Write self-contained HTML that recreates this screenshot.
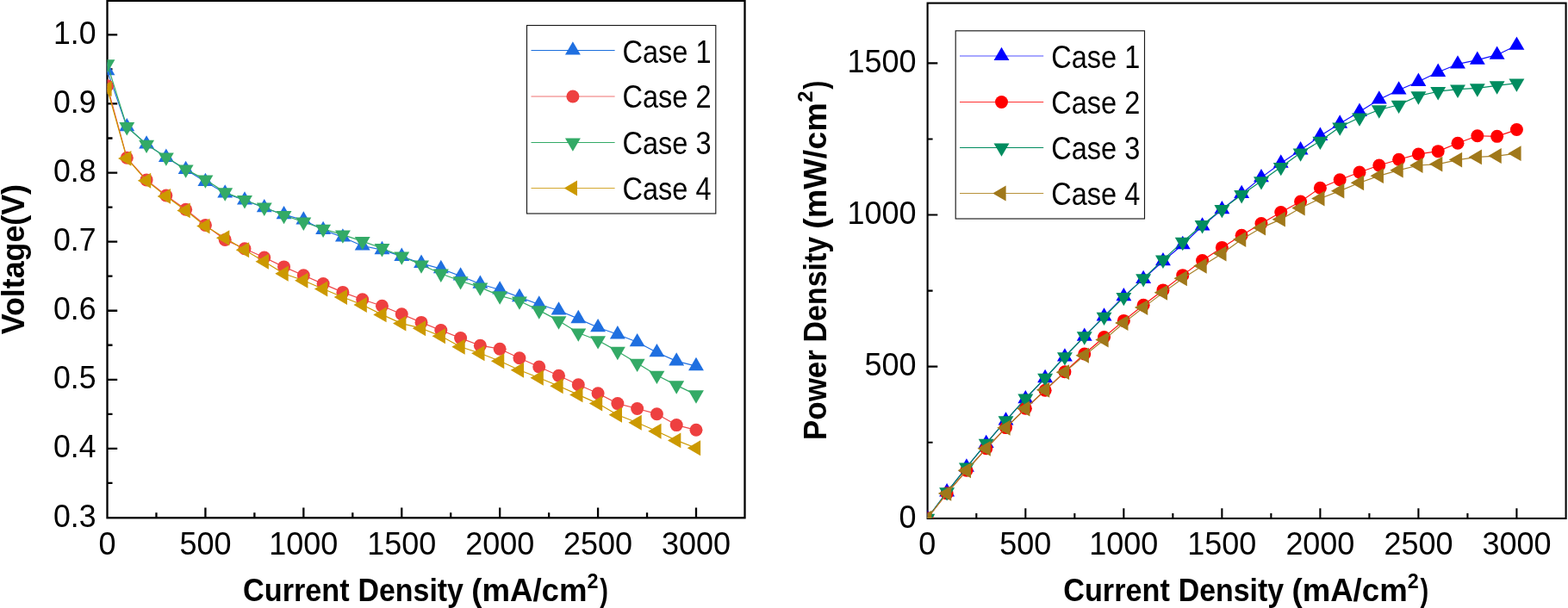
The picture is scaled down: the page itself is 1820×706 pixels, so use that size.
<!DOCTYPE html>
<html><head><meta charset="utf-8"><title>Fuel cell polarization and power density</title>
<style>html,body{margin:0;padding:0;background:#fff;overflow:hidden}svg{display:block}</style>
</head><body>
<svg width="1820" height="706" viewBox="0 0 1820 706">
<rect x="0" y="0" width="1820" height="706" fill="#ffffff"/>
<clipPath id="cl"><rect x="124.5" y="0.9" width="740.0" height="600.4"/></clipPath>
<path d="M124.5 520.91h11.7 M124.5 440.82h11.7 M124.5 360.73h11.7 M124.5 280.64h11.7 M124.5 200.55h11.7 M124.5 120.46h11.7 M124.5 40.37h11.7 M124.5 560.96h6 M124.5 480.87h6 M124.5 400.77h6 M124.5 320.69h6 M124.5 240.60h6 M124.5 160.50h6 M124.5 80.41h6 M238.42 601.3v-11.8 M352.33 601.3v-11.8 M466.25 601.3v-11.8 M580.16 601.3v-11.8 M694.08 601.3v-11.8 M807.99 601.3v-11.8 M181.46 601.3v-6 M295.37 601.3v-6 M409.29 601.3v-6 M523.20 601.3v-6 M637.12 601.3v-6 M751.03 601.3v-6" stroke="#000" stroke-width="2.3" fill="none"/>
<rect x="124.5" y="0.9" width="740.0" height="600.4" fill="none" stroke="#000" stroke-width="2.3"/>
<g clip-path="url(#cl)">
<polyline points="124.50,82.10 147.28,147.20 170.07,167.40 192.85,182.80 215.63,196.90 238.42,210.90 261.20,224.50 283.98,232.50 306.76,241.20 329.55,249.20 352.33,255.50 375.11,266.90 397.90,275.50 420.68,285.50 443.46,290.10 466.25,297.80 489.03,305.80 511.81,312.10 534.59,320.50 557.38,329.70 580.16,336.50 602.94,345.10 625.73,353.50 648.51,360.50 671.29,370.10 694.08,380.20 716.86,388.30 739.64,397.20 762.42,409.20 785.21,419.40 807.99,425.10" fill="none" stroke="#1f6fe0" stroke-width="1.2" stroke-linejoin="round"/>
<path d="M124.50 71.87 L133.45 87.22 L115.55 87.22Z" fill="#1f6fe0"/>
<path d="M147.28 136.97 L156.23 152.32 L138.33 152.32Z" fill="#1f6fe0"/>
<path d="M170.07 157.17 L179.02 172.52 L161.12 172.52Z" fill="#1f6fe0"/>
<path d="M192.85 172.57 L201.80 187.92 L183.90 187.92Z" fill="#1f6fe0"/>
<path d="M215.63 186.67 L224.58 202.02 L206.68 202.02Z" fill="#1f6fe0"/>
<path d="M238.42 200.67 L247.37 216.02 L229.47 216.02Z" fill="#1f6fe0"/>
<path d="M261.20 214.27 L270.15 229.62 L252.25 229.62Z" fill="#1f6fe0"/>
<path d="M283.98 222.27 L292.93 237.62 L275.03 237.62Z" fill="#1f6fe0"/>
<path d="M306.76 230.97 L315.71 246.32 L297.81 246.32Z" fill="#1f6fe0"/>
<path d="M329.55 238.97 L338.50 254.32 L320.60 254.32Z" fill="#1f6fe0"/>
<path d="M352.33 245.27 L361.28 260.62 L343.38 260.62Z" fill="#1f6fe0"/>
<path d="M375.11 256.67 L384.06 272.02 L366.16 272.02Z" fill="#1f6fe0"/>
<path d="M397.90 265.27 L406.85 280.62 L388.95 280.62Z" fill="#1f6fe0"/>
<path d="M420.68 275.27 L429.63 290.62 L411.73 290.62Z" fill="#1f6fe0"/>
<path d="M443.46 279.87 L452.41 295.22 L434.51 295.22Z" fill="#1f6fe0"/>
<path d="M466.25 287.57 L475.19 302.92 L457.30 302.92Z" fill="#1f6fe0"/>
<path d="M489.03 295.57 L497.98 310.92 L480.08 310.92Z" fill="#1f6fe0"/>
<path d="M511.81 301.87 L520.76 317.22 L502.86 317.22Z" fill="#1f6fe0"/>
<path d="M534.59 310.27 L543.54 325.62 L525.64 325.62Z" fill="#1f6fe0"/>
<path d="M557.38 319.47 L566.33 334.82 L548.43 334.82Z" fill="#1f6fe0"/>
<path d="M580.16 326.27 L589.11 341.62 L571.21 341.62Z" fill="#1f6fe0"/>
<path d="M602.94 334.87 L611.89 350.22 L593.99 350.22Z" fill="#1f6fe0"/>
<path d="M625.73 343.27 L634.68 358.62 L616.78 358.62Z" fill="#1f6fe0"/>
<path d="M648.51 350.27 L657.46 365.62 L639.56 365.62Z" fill="#1f6fe0"/>
<path d="M671.29 359.87 L680.24 375.22 L662.34 375.22Z" fill="#1f6fe0"/>
<path d="M694.08 369.97 L703.03 385.32 L685.12 385.32Z" fill="#1f6fe0"/>
<path d="M716.86 378.07 L725.81 393.42 L707.91 393.42Z" fill="#1f6fe0"/>
<path d="M739.64 386.97 L748.59 402.32 L730.69 402.32Z" fill="#1f6fe0"/>
<path d="M762.42 398.97 L771.37 414.32 L753.47 414.32Z" fill="#1f6fe0"/>
<path d="M785.21 409.17 L794.16 424.52 L776.26 424.52Z" fill="#1f6fe0"/>
<path d="M807.99 414.87 L816.94 430.22 L799.04 430.22Z" fill="#1f6fe0"/>
<polyline points="124.50,99.80 147.28,183.30 170.07,208.90 192.85,227.00 215.63,243.30 238.42,261.40 261.20,278.40 283.98,288.80 306.76,299.00 329.55,309.90 352.33,319.70 375.11,329.60 397.90,339.40 420.68,347.80 443.46,355.20 466.25,364.70 489.03,374.40 511.81,383.50 534.59,392.60 557.38,401.20 580.16,405.20 602.94,415.80 625.73,426.00 648.51,436.20 671.29,446.70 694.08,456.70 716.86,468.60 739.64,474.50 762.42,480.70 785.21,493.60 807.99,499.30" fill="none" stroke="#ee4848" stroke-width="1.2" stroke-linejoin="round"/>
<circle cx="124.50" cy="99.80" r="7.5" fill="#ee4040"/>
<circle cx="147.28" cy="183.30" r="7.5" fill="#ee4040"/>
<circle cx="170.07" cy="208.90" r="7.5" fill="#ee4040"/>
<circle cx="192.85" cy="227.00" r="7.5" fill="#ee4040"/>
<circle cx="215.63" cy="243.30" r="7.5" fill="#ee4040"/>
<circle cx="238.42" cy="261.40" r="7.5" fill="#ee4040"/>
<circle cx="261.20" cy="278.40" r="7.5" fill="#ee4040"/>
<circle cx="283.98" cy="288.80" r="7.5" fill="#ee4040"/>
<circle cx="306.76" cy="299.00" r="7.5" fill="#ee4040"/>
<circle cx="329.55" cy="309.90" r="7.5" fill="#ee4040"/>
<circle cx="352.33" cy="319.70" r="7.5" fill="#ee4040"/>
<circle cx="375.11" cy="329.60" r="7.5" fill="#ee4040"/>
<circle cx="397.90" cy="339.40" r="7.5" fill="#ee4040"/>
<circle cx="420.68" cy="347.80" r="7.5" fill="#ee4040"/>
<circle cx="443.46" cy="355.20" r="7.5" fill="#ee4040"/>
<circle cx="466.25" cy="364.70" r="7.5" fill="#ee4040"/>
<circle cx="489.03" cy="374.40" r="7.5" fill="#ee4040"/>
<circle cx="511.81" cy="383.50" r="7.5" fill="#ee4040"/>
<circle cx="534.59" cy="392.60" r="7.5" fill="#ee4040"/>
<circle cx="557.38" cy="401.20" r="7.5" fill="#ee4040"/>
<circle cx="580.16" cy="405.20" r="7.5" fill="#ee4040"/>
<circle cx="602.94" cy="415.80" r="7.5" fill="#ee4040"/>
<circle cx="625.73" cy="426.00" r="7.5" fill="#ee4040"/>
<circle cx="648.51" cy="436.20" r="7.5" fill="#ee4040"/>
<circle cx="671.29" cy="446.70" r="7.5" fill="#ee4040"/>
<circle cx="694.08" cy="456.70" r="7.5" fill="#ee4040"/>
<circle cx="716.86" cy="468.60" r="7.5" fill="#ee4040"/>
<circle cx="739.64" cy="474.50" r="7.5" fill="#ee4040"/>
<circle cx="762.42" cy="480.70" r="7.5" fill="#ee4040"/>
<circle cx="785.21" cy="493.60" r="7.5" fill="#ee4040"/>
<circle cx="807.99" cy="499.30" r="7.5" fill="#ee4040"/>
<polyline points="124.50,74.40 147.28,147.20 170.07,167.80 192.85,182.60 215.63,196.60 238.42,208.60 261.20,223.40 283.98,232.20 306.76,240.70 329.55,250.00 352.33,257.70 375.11,265.80 397.90,272.60 420.68,280.10 443.46,288.20 466.25,297.50 489.03,307.50 511.81,317.70 534.59,326.30 557.38,333.60 580.16,343.40 602.94,349.50 625.73,360.40 648.51,372.40 671.29,386.50 694.08,395.30 716.86,407.90 739.64,421.80 762.42,435.80 785.21,447.40 807.99,458.40" fill="none" stroke="#33aa66" stroke-width="1.2" stroke-linejoin="round"/>
<path d="M124.50 84.63 L133.45 69.28 L115.55 69.28Z" fill="#33aa66"/>
<path d="M147.28 157.43 L156.23 142.08 L138.33 142.08Z" fill="#33aa66"/>
<path d="M170.07 178.03 L179.02 162.68 L161.12 162.68Z" fill="#33aa66"/>
<path d="M192.85 192.83 L201.80 177.48 L183.90 177.48Z" fill="#33aa66"/>
<path d="M215.63 206.83 L224.58 191.48 L206.68 191.48Z" fill="#33aa66"/>
<path d="M238.42 218.83 L247.37 203.48 L229.47 203.48Z" fill="#33aa66"/>
<path d="M261.20 233.63 L270.15 218.28 L252.25 218.28Z" fill="#33aa66"/>
<path d="M283.98 242.43 L292.93 227.08 L275.03 227.08Z" fill="#33aa66"/>
<path d="M306.76 250.93 L315.71 235.58 L297.81 235.58Z" fill="#33aa66"/>
<path d="M329.55 260.23 L338.50 244.88 L320.60 244.88Z" fill="#33aa66"/>
<path d="M352.33 267.93 L361.28 252.58 L343.38 252.58Z" fill="#33aa66"/>
<path d="M375.11 276.03 L384.06 260.68 L366.16 260.68Z" fill="#33aa66"/>
<path d="M397.90 282.83 L406.85 267.48 L388.95 267.48Z" fill="#33aa66"/>
<path d="M420.68 290.33 L429.63 274.98 L411.73 274.98Z" fill="#33aa66"/>
<path d="M443.46 298.43 L452.41 283.08 L434.51 283.08Z" fill="#33aa66"/>
<path d="M466.25 307.73 L475.19 292.38 L457.30 292.38Z" fill="#33aa66"/>
<path d="M489.03 317.73 L497.98 302.38 L480.08 302.38Z" fill="#33aa66"/>
<path d="M511.81 327.93 L520.76 312.58 L502.86 312.58Z" fill="#33aa66"/>
<path d="M534.59 336.53 L543.54 321.18 L525.64 321.18Z" fill="#33aa66"/>
<path d="M557.38 343.83 L566.33 328.48 L548.43 328.48Z" fill="#33aa66"/>
<path d="M580.16 353.63 L589.11 338.28 L571.21 338.28Z" fill="#33aa66"/>
<path d="M602.94 359.73 L611.89 344.38 L593.99 344.38Z" fill="#33aa66"/>
<path d="M625.73 370.63 L634.68 355.28 L616.78 355.28Z" fill="#33aa66"/>
<path d="M648.51 382.63 L657.46 367.28 L639.56 367.28Z" fill="#33aa66"/>
<path d="M671.29 396.73 L680.24 381.38 L662.34 381.38Z" fill="#33aa66"/>
<path d="M694.08 405.53 L703.03 390.18 L685.12 390.18Z" fill="#33aa66"/>
<path d="M716.86 418.13 L725.81 402.78 L707.91 402.78Z" fill="#33aa66"/>
<path d="M739.64 432.03 L748.59 416.68 L730.69 416.68Z" fill="#33aa66"/>
<path d="M762.42 446.03 L771.37 430.68 L753.47 430.68Z" fill="#33aa66"/>
<path d="M785.21 457.63 L794.16 442.28 L776.26 442.28Z" fill="#33aa66"/>
<path d="M807.99 468.63 L816.94 453.28 L799.04 453.28Z" fill="#33aa66"/>
<polyline points="124.50,103.00 147.28,183.90 170.07,209.80 192.85,227.90 215.63,244.40 238.42,262.60 261.20,276.20 283.98,290.20 306.76,303.80 329.55,317.80 352.33,325.80 375.11,335.50 397.90,345.00 420.68,354.00 443.46,365.40 466.25,375.60 489.03,381.20 511.81,390.30 534.59,402.80 557.38,410.20 580.16,419.20 602.94,429.70 625.73,438.70 648.51,448.20 671.29,458.40 694.08,468.60 716.86,481.70 739.64,490.80 762.42,500.70 785.21,511.40 807.99,520.20" fill="none" stroke="#cc9900" stroke-width="1.2" stroke-linejoin="round"/>
<path d="M114.27 103.00 L129.62 94.05 L129.62 111.95Z" fill="#cc9900"/>
<path d="M137.05 183.90 L152.40 174.95 L152.40 192.85Z" fill="#cc9900"/>
<path d="M159.83 209.80 L175.18 200.85 L175.18 218.75Z" fill="#cc9900"/>
<path d="M182.62 227.90 L197.97 218.95 L197.97 236.85Z" fill="#cc9900"/>
<path d="M205.40 244.40 L220.75 235.45 L220.75 253.35Z" fill="#cc9900"/>
<path d="M228.18 262.60 L243.53 253.65 L243.53 271.55Z" fill="#cc9900"/>
<path d="M250.96 276.20 L266.31 267.25 L266.31 285.15Z" fill="#cc9900"/>
<path d="M273.75 290.20 L289.10 281.25 L289.10 299.15Z" fill="#cc9900"/>
<path d="M296.53 303.80 L311.88 294.85 L311.88 312.75Z" fill="#cc9900"/>
<path d="M319.31 317.80 L334.66 308.85 L334.66 326.75Z" fill="#cc9900"/>
<path d="M342.10 325.80 L357.45 316.85 L357.45 334.75Z" fill="#cc9900"/>
<path d="M364.88 335.50 L380.23 326.55 L380.23 344.45Z" fill="#cc9900"/>
<path d="M387.66 345.00 L403.01 336.05 L403.01 353.95Z" fill="#cc9900"/>
<path d="M410.45 354.00 L425.80 345.05 L425.80 362.95Z" fill="#cc9900"/>
<path d="M433.23 365.40 L448.58 356.45 L448.58 374.35Z" fill="#cc9900"/>
<path d="M456.01 375.60 L471.36 366.65 L471.36 384.55Z" fill="#cc9900"/>
<path d="M478.79 381.20 L494.14 372.25 L494.14 390.15Z" fill="#cc9900"/>
<path d="M501.58 390.30 L516.93 381.35 L516.93 399.25Z" fill="#cc9900"/>
<path d="M524.36 402.80 L539.71 393.85 L539.71 411.75Z" fill="#cc9900"/>
<path d="M547.14 410.20 L562.49 401.25 L562.49 419.15Z" fill="#cc9900"/>
<path d="M569.93 419.20 L585.28 410.25 L585.28 428.15Z" fill="#cc9900"/>
<path d="M592.71 429.70 L608.06 420.75 L608.06 438.65Z" fill="#cc9900"/>
<path d="M615.49 438.70 L630.84 429.75 L630.84 447.65Z" fill="#cc9900"/>
<path d="M638.28 448.20 L653.63 439.25 L653.63 457.15Z" fill="#cc9900"/>
<path d="M661.06 458.40 L676.41 449.45 L676.41 467.35Z" fill="#cc9900"/>
<path d="M683.84 468.60 L699.19 459.65 L699.19 477.55Z" fill="#cc9900"/>
<path d="M706.62 481.70 L721.97 472.75 L721.97 490.65Z" fill="#cc9900"/>
<path d="M729.41 490.80 L744.76 481.85 L744.76 499.75Z" fill="#cc9900"/>
<path d="M752.19 500.70 L767.54 491.75 L767.54 509.65Z" fill="#cc9900"/>
<path d="M774.97 511.40 L790.32 502.45 L790.32 520.35Z" fill="#cc9900"/>
<path d="M797.76 520.20 L813.11 511.25 L813.11 529.15Z" fill="#cc9900"/>
</g>
<clipPath id="cr"><rect x="1076.6" y="3.6" width="741.0" height="598.4"/></clipPath>
<path d="M1076.6 425.67h11.7 M1076.6 249.54h11.7 M1076.6 73.41h11.7 M1076.6 513.73h6 M1076.6 337.60h6 M1076.6 161.47h6 M1190.32 602.0v-11.8 M1304.34 602.0v-11.8 M1418.36 602.0v-11.8 M1532.38 602.0v-11.8 M1646.40 602.0v-11.8 M1760.42 602.0v-11.8 M1133.31 602.0v-6 M1247.33 602.0v-6 M1361.35 602.0v-6 M1475.37 602.0v-6 M1589.39 602.0v-6 M1703.41 602.0v-6" stroke="#000" stroke-width="2.1" fill="none"/>
<rect x="1076.6" y="3.6" width="741.0" height="598.4" fill="none" stroke="#000" stroke-width="2.1"/>
<g clip-path="url(#cr)">
<polyline points="1076.30,601.80 1099.10,571.27 1121.91,542.52 1144.71,514.92 1167.52,488.43 1190.32,463.17 1213.12,439.04 1235.93,414.37 1258.73,390.66 1281.54,367.43 1304.34,344.16 1327.14,323.91 1349.95,303.19 1372.75,284.02 1395.56,262.41 1418.36,243.25 1441.16,224.97 1463.97,206.13 1486.77,189.51 1509.58,174.29 1532.38,157.77 1555.18,143.52 1577.99,129.82 1600.79,115.45 1623.60,104.44 1646.40,94.82 1669.20,83.80 1692.01,74.45 1714.81,69.70 1737.62,63.70 1760.42,52.67" fill="none" stroke="#1010ff" stroke-width="1.2" stroke-linejoin="round"/>
<path d="M1076.30 591.57 L1085.25 606.92 L1067.35 606.92Z" fill="#0000ff"/>
<path d="M1099.10 561.04 L1108.05 576.39 L1090.15 576.39Z" fill="#0000ff"/>
<path d="M1121.91 532.29 L1130.86 547.64 L1112.96 547.64Z" fill="#0000ff"/>
<path d="M1144.71 504.68 L1153.66 520.03 L1135.76 520.03Z" fill="#0000ff"/>
<path d="M1167.52 478.20 L1176.47 493.55 L1158.57 493.55Z" fill="#0000ff"/>
<path d="M1190.32 452.94 L1199.27 468.29 L1181.37 468.29Z" fill="#0000ff"/>
<path d="M1213.12 428.80 L1222.07 444.15 L1204.17 444.15Z" fill="#0000ff"/>
<path d="M1235.93 404.14 L1244.88 419.49 L1226.98 419.49Z" fill="#0000ff"/>
<path d="M1258.73 380.42 L1267.68 395.77 L1249.78 395.77Z" fill="#0000ff"/>
<path d="M1281.54 357.20 L1290.49 372.55 L1272.59 372.55Z" fill="#0000ff"/>
<path d="M1304.34 333.93 L1313.29 349.28 L1295.39 349.28Z" fill="#0000ff"/>
<path d="M1327.14 313.68 L1336.09 329.03 L1318.19 329.03Z" fill="#0000ff"/>
<path d="M1349.95 292.96 L1358.90 308.31 L1341.00 308.31Z" fill="#0000ff"/>
<path d="M1372.75 273.79 L1381.70 289.14 L1363.80 289.14Z" fill="#0000ff"/>
<path d="M1395.56 252.18 L1404.51 267.53 L1386.61 267.53Z" fill="#0000ff"/>
<path d="M1418.36 233.01 L1427.31 248.36 L1409.41 248.36Z" fill="#0000ff"/>
<path d="M1441.16 214.74 L1450.11 230.09 L1432.21 230.09Z" fill="#0000ff"/>
<path d="M1463.97 195.90 L1472.92 211.25 L1455.02 211.25Z" fill="#0000ff"/>
<path d="M1486.77 179.28 L1495.72 194.63 L1477.82 194.63Z" fill="#0000ff"/>
<path d="M1509.58 164.06 L1518.53 179.41 L1500.63 179.41Z" fill="#0000ff"/>
<path d="M1532.38 147.54 L1541.33 162.89 L1523.43 162.89Z" fill="#0000ff"/>
<path d="M1555.18 133.28 L1564.13 148.63 L1546.23 148.63Z" fill="#0000ff"/>
<path d="M1577.99 119.59 L1586.94 134.94 L1569.04 134.94Z" fill="#0000ff"/>
<path d="M1600.79 105.22 L1609.74 120.57 L1591.84 120.57Z" fill="#0000ff"/>
<path d="M1623.60 94.20 L1632.55 109.55 L1614.65 109.55Z" fill="#0000ff"/>
<path d="M1646.40 84.59 L1655.35 99.94 L1637.45 99.94Z" fill="#0000ff"/>
<path d="M1669.20 73.57 L1678.15 88.92 L1660.25 88.92Z" fill="#0000ff"/>
<path d="M1692.01 64.22 L1700.96 79.57 L1683.06 79.57Z" fill="#0000ff"/>
<path d="M1714.81 59.46 L1723.76 74.81 L1705.86 74.81Z" fill="#0000ff"/>
<path d="M1737.62 53.47 L1746.57 68.82 L1728.67 68.82Z" fill="#0000ff"/>
<path d="M1760.42 42.43 L1769.37 57.78 L1751.47 57.78Z" fill="#0000ff"/>
<polyline points="1076.30,601.80 1099.10,572.86 1121.91,546.17 1144.71,520.75 1167.52,496.60 1190.32,474.28 1213.12,453.26 1235.93,431.70 1258.73,410.99 1281.54,391.46 1304.34,372.40 1327.14,354.25 1349.95,336.91 1372.75,319.64 1395.56,302.50 1418.36,287.39 1441.16,273.25 1463.97,259.52 1486.77,246.59 1509.58,234.04 1532.38,218.21 1555.18,208.82 1577.99,199.97 1600.79,192.03 1623.60,185.29 1646.40,178.94 1669.20,175.63 1692.01,166.25 1714.81,157.75 1737.62,158.34 1760.42,150.57" fill="none" stroke="#ff1010" stroke-width="1.2" stroke-linejoin="round"/>
<circle cx="1076.30" cy="601.80" r="7.5" fill="#ff0000"/>
<circle cx="1099.10" cy="572.86" r="7.5" fill="#ff0000"/>
<circle cx="1121.91" cy="546.17" r="7.5" fill="#ff0000"/>
<circle cx="1144.71" cy="520.75" r="7.5" fill="#ff0000"/>
<circle cx="1167.52" cy="496.60" r="7.5" fill="#ff0000"/>
<circle cx="1190.32" cy="474.28" r="7.5" fill="#ff0000"/>
<circle cx="1213.12" cy="453.26" r="7.5" fill="#ff0000"/>
<circle cx="1235.93" cy="431.70" r="7.5" fill="#ff0000"/>
<circle cx="1258.73" cy="410.99" r="7.5" fill="#ff0000"/>
<circle cx="1281.54" cy="391.46" r="7.5" fill="#ff0000"/>
<circle cx="1304.34" cy="372.40" r="7.5" fill="#ff0000"/>
<circle cx="1327.14" cy="354.25" r="7.5" fill="#ff0000"/>
<circle cx="1349.95" cy="336.91" r="7.5" fill="#ff0000"/>
<circle cx="1372.75" cy="319.64" r="7.5" fill="#ff0000"/>
<circle cx="1395.56" cy="302.50" r="7.5" fill="#ff0000"/>
<circle cx="1418.36" cy="287.39" r="7.5" fill="#ff0000"/>
<circle cx="1441.16" cy="273.25" r="7.5" fill="#ff0000"/>
<circle cx="1463.97" cy="259.52" r="7.5" fill="#ff0000"/>
<circle cx="1486.77" cy="246.59" r="7.5" fill="#ff0000"/>
<circle cx="1509.58" cy="234.04" r="7.5" fill="#ff0000"/>
<circle cx="1532.38" cy="218.21" r="7.5" fill="#ff0000"/>
<circle cx="1555.18" cy="208.82" r="7.5" fill="#ff0000"/>
<circle cx="1577.99" cy="199.97" r="7.5" fill="#ff0000"/>
<circle cx="1600.79" cy="192.03" r="7.5" fill="#ff0000"/>
<circle cx="1623.60" cy="185.29" r="7.5" fill="#ff0000"/>
<circle cx="1646.40" cy="178.94" r="7.5" fill="#ff0000"/>
<circle cx="1669.20" cy="175.63" r="7.5" fill="#ff0000"/>
<circle cx="1692.01" cy="166.25" r="7.5" fill="#ff0000"/>
<circle cx="1714.81" cy="157.75" r="7.5" fill="#ff0000"/>
<circle cx="1737.62" cy="158.34" r="7.5" fill="#ff0000"/>
<circle cx="1760.42" cy="150.57" r="7.5" fill="#ff0000"/>
<polyline points="1076.30,601.80 1099.10,571.27 1121.91,542.56 1144.71,514.89 1167.52,488.38 1190.32,462.67 1213.12,438.75 1235.93,414.28 1258.73,390.48 1281.54,367.75 1304.34,345.13 1327.14,323.38 1349.95,301.66 1372.75,280.93 1395.56,261.24 1418.36,243.05 1441.16,226.17 1463.97,210.32 1486.77,194.10 1509.58,177.55 1532.38,163.84 1555.18,147.58 1577.99,136.50 1600.79,127.49 1623.60,121.75 1646.40,111.42 1669.20,106.22 1692.01,103.66 1714.81,102.45 1737.62,99.42 1760.42,96.61" fill="none" stroke="#008c5f" stroke-width="1.2" stroke-linejoin="round"/>
<path d="M1076.30 612.03 L1085.25 596.68 L1067.35 596.68Z" fill="#008c5f"/>
<path d="M1099.10 581.51 L1108.05 566.16 L1090.15 566.16Z" fill="#008c5f"/>
<path d="M1121.91 552.79 L1130.86 537.44 L1112.96 537.44Z" fill="#008c5f"/>
<path d="M1144.71 525.12 L1153.66 509.77 L1135.76 509.77Z" fill="#008c5f"/>
<path d="M1167.52 498.62 L1176.47 483.27 L1158.57 483.27Z" fill="#008c5f"/>
<path d="M1190.32 472.90 L1199.27 457.55 L1181.37 457.55Z" fill="#008c5f"/>
<path d="M1213.12 448.98 L1222.07 433.63 L1204.17 433.63Z" fill="#008c5f"/>
<path d="M1235.93 424.51 L1244.88 409.16 L1226.98 409.16Z" fill="#008c5f"/>
<path d="M1258.73 400.71 L1267.68 385.36 L1249.78 385.36Z" fill="#008c5f"/>
<path d="M1281.54 377.98 L1290.49 362.63 L1272.59 362.63Z" fill="#008c5f"/>
<path d="M1304.34 355.36 L1313.29 340.01 L1295.39 340.01Z" fill="#008c5f"/>
<path d="M1327.14 333.61 L1336.09 318.26 L1318.19 318.26Z" fill="#008c5f"/>
<path d="M1349.95 311.89 L1358.90 296.54 L1341.00 296.54Z" fill="#008c5f"/>
<path d="M1372.75 291.17 L1381.70 275.82 L1363.80 275.82Z" fill="#008c5f"/>
<path d="M1395.56 271.47 L1404.51 256.12 L1386.61 256.12Z" fill="#008c5f"/>
<path d="M1418.36 253.28 L1427.31 237.93 L1409.41 237.93Z" fill="#008c5f"/>
<path d="M1441.16 236.40 L1450.11 221.05 L1432.21 221.05Z" fill="#008c5f"/>
<path d="M1463.97 220.55 L1472.92 205.20 L1455.02 205.20Z" fill="#008c5f"/>
<path d="M1486.77 204.33 L1495.72 188.98 L1477.82 188.98Z" fill="#008c5f"/>
<path d="M1509.58 187.79 L1518.53 172.44 L1500.63 172.44Z" fill="#008c5f"/>
<path d="M1532.38 174.08 L1541.33 158.73 L1523.43 158.73Z" fill="#008c5f"/>
<path d="M1555.18 157.81 L1564.13 142.46 L1546.23 142.46Z" fill="#008c5f"/>
<path d="M1577.99 146.73 L1586.94 131.38 L1569.04 131.38Z" fill="#008c5f"/>
<path d="M1600.79 137.72 L1609.74 122.37 L1591.84 122.37Z" fill="#008c5f"/>
<path d="M1623.60 131.98 L1632.55 116.63 L1614.65 116.63Z" fill="#008c5f"/>
<path d="M1646.40 121.66 L1655.35 106.31 L1637.45 106.31Z" fill="#008c5f"/>
<path d="M1669.20 116.45 L1678.15 101.10 L1660.25 101.10Z" fill="#008c5f"/>
<path d="M1692.01 113.90 L1700.96 98.55 L1683.06 98.55Z" fill="#008c5f"/>
<path d="M1714.81 112.69 L1723.76 97.34 L1705.86 97.34Z" fill="#008c5f"/>
<path d="M1737.62 109.65 L1746.57 94.30 L1728.67 94.30Z" fill="#008c5f"/>
<path d="M1760.42 106.84 L1769.37 91.49 L1751.47 91.49Z" fill="#008c5f"/>
<polyline points="1076.30,601.80 1099.10,572.89 1121.91,546.25 1144.71,520.87 1167.52,496.79 1190.32,474.54 1213.12,452.68 1235.93,432.14 1258.73,412.68 1281.54,394.59 1304.34,375.08 1327.14,357.10 1349.95,339.87 1372.75,323.19 1395.56,308.78 1418.36,294.58 1441.16,278.04 1463.97,264.60 1486.77,254.67 1509.58,241.56 1532.38,230.52 1555.18,221.66 1577.99,212.26 1600.79,204.17 1623.60,197.65 1646.40,192.02 1669.20,190.61 1692.01,185.60 1714.81,182.38 1737.62,181.05 1760.42,178.15" fill="none" stroke="#a8822a" stroke-width="1.2" stroke-linejoin="round"/>
<path d="M1066.07 601.80 L1081.42 592.85 L1081.42 610.75Z" fill="#a0781a"/>
<path d="M1088.87 572.89 L1104.22 563.94 L1104.22 581.84Z" fill="#a0781a"/>
<path d="M1111.67 546.25 L1127.02 537.30 L1127.02 555.20Z" fill="#a0781a"/>
<path d="M1134.48 520.87 L1149.83 511.92 L1149.83 529.82Z" fill="#a0781a"/>
<path d="M1157.28 496.79 L1172.63 487.84 L1172.63 505.74Z" fill="#a0781a"/>
<path d="M1180.09 474.54 L1195.44 465.59 L1195.44 483.49Z" fill="#a0781a"/>
<path d="M1202.89 452.68 L1218.24 443.73 L1218.24 461.63Z" fill="#a0781a"/>
<path d="M1225.69 432.14 L1241.04 423.19 L1241.04 441.09Z" fill="#a0781a"/>
<path d="M1248.50 412.68 L1263.85 403.73 L1263.85 421.63Z" fill="#a0781a"/>
<path d="M1271.30 394.59 L1286.65 385.64 L1286.65 403.54Z" fill="#a0781a"/>
<path d="M1294.11 375.08 L1309.46 366.13 L1309.46 384.03Z" fill="#a0781a"/>
<path d="M1316.91 357.10 L1332.26 348.15 L1332.26 366.05Z" fill="#a0781a"/>
<path d="M1339.71 339.87 L1355.06 330.92 L1355.06 348.82Z" fill="#a0781a"/>
<path d="M1362.52 323.19 L1377.87 314.24 L1377.87 332.14Z" fill="#a0781a"/>
<path d="M1385.32 308.78 L1400.67 299.83 L1400.67 317.73Z" fill="#a0781a"/>
<path d="M1408.13 294.58 L1423.48 285.63 L1423.48 303.53Z" fill="#a0781a"/>
<path d="M1430.93 278.04 L1446.28 269.09 L1446.28 286.99Z" fill="#a0781a"/>
<path d="M1453.73 264.60 L1469.08 255.65 L1469.08 273.55Z" fill="#a0781a"/>
<path d="M1476.54 254.67 L1491.89 245.72 L1491.89 263.62Z" fill="#a0781a"/>
<path d="M1499.34 241.56 L1514.69 232.61 L1514.69 250.51Z" fill="#a0781a"/>
<path d="M1522.15 230.52 L1537.50 221.57 L1537.50 239.47Z" fill="#a0781a"/>
<path d="M1544.95 221.66 L1560.30 212.71 L1560.30 230.61Z" fill="#a0781a"/>
<path d="M1567.75 212.26 L1583.10 203.31 L1583.10 221.21Z" fill="#a0781a"/>
<path d="M1590.56 204.17 L1605.91 195.22 L1605.91 213.12Z" fill="#a0781a"/>
<path d="M1613.36 197.65 L1628.71 188.70 L1628.71 206.60Z" fill="#a0781a"/>
<path d="M1636.17 192.02 L1651.52 183.07 L1651.52 200.97Z" fill="#a0781a"/>
<path d="M1658.97 190.61 L1674.32 181.66 L1674.32 199.56Z" fill="#a0781a"/>
<path d="M1681.77 185.60 L1697.12 176.65 L1697.12 194.55Z" fill="#a0781a"/>
<path d="M1704.58 182.38 L1719.93 173.43 L1719.93 191.33Z" fill="#a0781a"/>
<path d="M1727.38 181.05 L1742.73 172.10 L1742.73 190.00Z" fill="#a0781a"/>
<path d="M1750.19 178.15 L1765.54 169.20 L1765.54 187.10Z" fill="#a0781a"/>
</g>
<g font-family="'Liberation Sans', Arial, sans-serif" fill="#000">
<rect x="611.5" y="29.5" width="219.3" height="218.5" fill="#fff" stroke="#1a1a1a" stroke-width="1.15"/>
<line x1="616.5" y1="58.5" x2="713.6" y2="58.5" stroke="#1a6edc" stroke-width="1.1"/>
<path d="M664.90 48.27 L673.85 63.62 L655.95 63.62Z" fill="#1f6fe0"/>
<text x="722.5" y="72.6" font-size="37.4" textLength="103" lengthAdjust="spacingAndGlyphs">Case 1</text>
<line x1="616.5" y1="112.0" x2="713.6" y2="112.0" stroke="#f07070" stroke-width="1.1"/>
<circle cx="664.90" cy="112.00" r="7.5" fill="#ee4040"/>
<text x="722.5" y="125.3" font-size="37.4" textLength="103" lengthAdjust="spacingAndGlyphs">Case 2</text>
<line x1="616.5" y1="165.5" x2="713.6" y2="165.5" stroke="#33aa66" stroke-width="1.1"/>
<path d="M664.90 175.73 L673.85 160.38 L655.95 160.38Z" fill="#33aa66"/>
<text x="722.5" y="179.0" font-size="37.4" textLength="103" lengthAdjust="spacingAndGlyphs">Case 3</text>
<line x1="616.5" y1="218.5" x2="713.6" y2="218.5" stroke="#d4a830" stroke-width="1.1"/>
<path d="M654.67 218.50 L670.02 209.55 L670.02 227.45Z" fill="#cc9900"/>
<text x="722.5" y="232.1" font-size="37.4" textLength="103" lengthAdjust="spacingAndGlyphs">Case 4</text>
<rect x="1109.2" y="35.8" width="219.3" height="218.2" fill="#fff" stroke="#1a1a1a" stroke-width="1.15"/>
<line x1="1114.0" y1="65.0" x2="1211.2" y2="65.0" stroke="#5050ff" stroke-width="1.1"/>
<path d="M1162.50 54.77 L1171.45 70.12 L1153.55 70.12Z" fill="#0000ff"/>
<text x="1220.3" y="78.6" font-size="37.4" textLength="103" lengthAdjust="spacingAndGlyphs">Case 1</text>
<line x1="1114.0" y1="118.5" x2="1211.2" y2="118.5" stroke="#ff3030" stroke-width="1.1"/>
<circle cx="1162.50" cy="118.50" r="7.5" fill="#ff0000"/>
<text x="1220.3" y="131.7" font-size="37.4" textLength="103" lengthAdjust="spacingAndGlyphs">Case 2</text>
<line x1="1114.0" y1="171.5" x2="1211.2" y2="171.5" stroke="#008c5f" stroke-width="1.1"/>
<path d="M1162.50 181.73 L1171.45 166.38 L1153.55 166.38Z" fill="#008c5f"/>
<text x="1220.3" y="185.0" font-size="37.4" textLength="103" lengthAdjust="spacingAndGlyphs">Case 3</text>
<line x1="1114.0" y1="224.5" x2="1211.2" y2="224.5" stroke="#b8923a" stroke-width="1.1"/>
<path d="M1152.27 224.50 L1167.62 215.55 L1167.62 233.45Z" fill="#a0781a"/>
<text x="1220.3" y="238.1" font-size="37.4" textLength="103" lengthAdjust="spacingAndGlyphs">Case 4</text>
</g>
<g font-family="'Liberation Sans', Arial, sans-serif" font-size="37.6" fill="#000"><text x="111.5" y="611.50" text-anchor="end" textLength="49.5" lengthAdjust="spacingAndGlyphs">0.3</text>
<text x="111.5" y="531.41" text-anchor="end" textLength="49.5" lengthAdjust="spacingAndGlyphs">0.4</text>
<text x="111.5" y="451.32" text-anchor="end" textLength="49.5" lengthAdjust="spacingAndGlyphs">0.5</text>
<text x="111.5" y="371.23" text-anchor="end" textLength="49.5" lengthAdjust="spacingAndGlyphs">0.6</text>
<text x="111.5" y="291.14" text-anchor="end" textLength="49.5" lengthAdjust="spacingAndGlyphs">0.7</text>
<text x="111.5" y="211.05" text-anchor="end" textLength="49.5" lengthAdjust="spacingAndGlyphs">0.8</text>
<text x="111.5" y="130.96" text-anchor="end" textLength="49.5" lengthAdjust="spacingAndGlyphs">0.9</text>
<text x="111.5" y="50.87" text-anchor="end" textLength="49.5" lengthAdjust="spacingAndGlyphs">1.0</text>
<text x="124.50" y="643.80" text-anchor="middle" textLength="20" lengthAdjust="spacingAndGlyphs">0</text>
<text x="238.42" y="643.80" text-anchor="middle" textLength="60" lengthAdjust="spacingAndGlyphs">500</text>
<text x="352.33" y="643.80" text-anchor="middle" textLength="80" lengthAdjust="spacingAndGlyphs">1000</text>
<text x="466.25" y="643.80" text-anchor="middle" textLength="80" lengthAdjust="spacingAndGlyphs">1500</text>
<text x="580.16" y="643.80" text-anchor="middle" textLength="80" lengthAdjust="spacingAndGlyphs">2000</text>
<text x="694.08" y="643.80" text-anchor="middle" textLength="80" lengthAdjust="spacingAndGlyphs">2500</text>
<text x="807.99" y="643.80" text-anchor="middle" textLength="80" lengthAdjust="spacingAndGlyphs">3000</text>
<text x="1063.5" y="612.80" text-anchor="end" textLength="20" lengthAdjust="spacingAndGlyphs">0</text>
<text x="1063.5" y="436.17" text-anchor="end" textLength="60" lengthAdjust="spacingAndGlyphs">500</text>
<text x="1063.5" y="260.04" text-anchor="end" textLength="80" lengthAdjust="spacingAndGlyphs">1000</text>
<text x="1063.5" y="83.91" text-anchor="end" textLength="80" lengthAdjust="spacingAndGlyphs">1500</text>
<text x="1076.30" y="644.00" text-anchor="middle" textLength="20" lengthAdjust="spacingAndGlyphs">0</text>
<text x="1190.32" y="644.00" text-anchor="middle" textLength="60" lengthAdjust="spacingAndGlyphs">500</text>
<text x="1304.34" y="644.00" text-anchor="middle" textLength="80" lengthAdjust="spacingAndGlyphs">1000</text>
<text x="1418.36" y="644.00" text-anchor="middle" textLength="80" lengthAdjust="spacingAndGlyphs">1500</text>
<text x="1532.38" y="644.00" text-anchor="middle" textLength="80" lengthAdjust="spacingAndGlyphs">2000</text>
<text x="1646.40" y="644.00" text-anchor="middle" textLength="80" lengthAdjust="spacingAndGlyphs">2500</text>
<text x="1760.42" y="644.00" text-anchor="middle" textLength="80" lengthAdjust="spacingAndGlyphs">3000</text></g>
<g font-family="'Liberation Sans', Arial, sans-serif" fill="#000"><text x="282.03" y="698.40" font-size="36.5" font-weight="bold" textLength="123.65" lengthAdjust="spacingAndGlyphs">Current</text>
<text x="415.51" y="698.40" font-size="36.5" font-weight="bold" textLength="122.45" lengthAdjust="spacingAndGlyphs">Density</text>
<text x="547.27" y="698.40" font-size="36.5" font-weight="bold" textLength="134.22" lengthAdjust="spacingAndGlyphs">(mA/cm</text>
<text x="681.48" y="682.60" font-size="24.0" font-weight="bold" textLength="12.98" lengthAdjust="spacingAndGlyphs">2</text>
<text x="696.33" y="698.40" font-size="36.5" font-weight="bold" textLength="9.63" lengthAdjust="spacingAndGlyphs">)</text>
<text x="1234.23" y="698.40" font-size="36.5" font-weight="bold" textLength="123.65" lengthAdjust="spacingAndGlyphs">Current</text>
<text x="1367.71" y="698.40" font-size="36.5" font-weight="bold" textLength="122.45" lengthAdjust="spacingAndGlyphs">Density</text>
<text x="1499.47" y="698.40" font-size="36.5" font-weight="bold" textLength="134.22" lengthAdjust="spacingAndGlyphs">(mA/cm</text>
<text x="1633.68" y="682.60" font-size="24.0" font-weight="bold" textLength="12.98" lengthAdjust="spacingAndGlyphs">2</text>
<text x="1648.53" y="698.40" font-size="36.5" font-weight="bold" textLength="9.63" lengthAdjust="spacingAndGlyphs">)</text>
<text transform="translate(27.80 388.00) rotate(-90)" x="-0.27" y="0" font-size="36.0" font-weight="bold" textLength="174.28" lengthAdjust="spacingAndGlyphs">Voltage(V)</text>
<text transform="translate(959.00 508.60) rotate(-90)" x="-2.36" y="0" font-size="36.5" font-weight="bold" textLength="104.83" lengthAdjust="spacingAndGlyphs">Power</text>
<text transform="translate(959.00 395.10) rotate(-90)" x="-2.29" y="0" font-size="36.5" font-weight="bold" textLength="122.56" lengthAdjust="spacingAndGlyphs">Density</text>
<text transform="translate(959.00 264.00) rotate(-90)" x="-1.88" y="0" font-size="36.5" font-weight="bold" textLength="146.51" lengthAdjust="spacingAndGlyphs">(mW/cm</text>
<text transform="translate(943.00 117.80) rotate(-90)" x="-0.83" y="0" font-size="24.0" font-weight="bold" textLength="13.21" lengthAdjust="spacingAndGlyphs">2</text>
<text transform="translate(959.00 103.70) rotate(-90)" x="-0.08" y="0" font-size="36.5" font-weight="bold" textLength="9.99" lengthAdjust="spacingAndGlyphs">)</text></g>
</svg>
</body></html>
